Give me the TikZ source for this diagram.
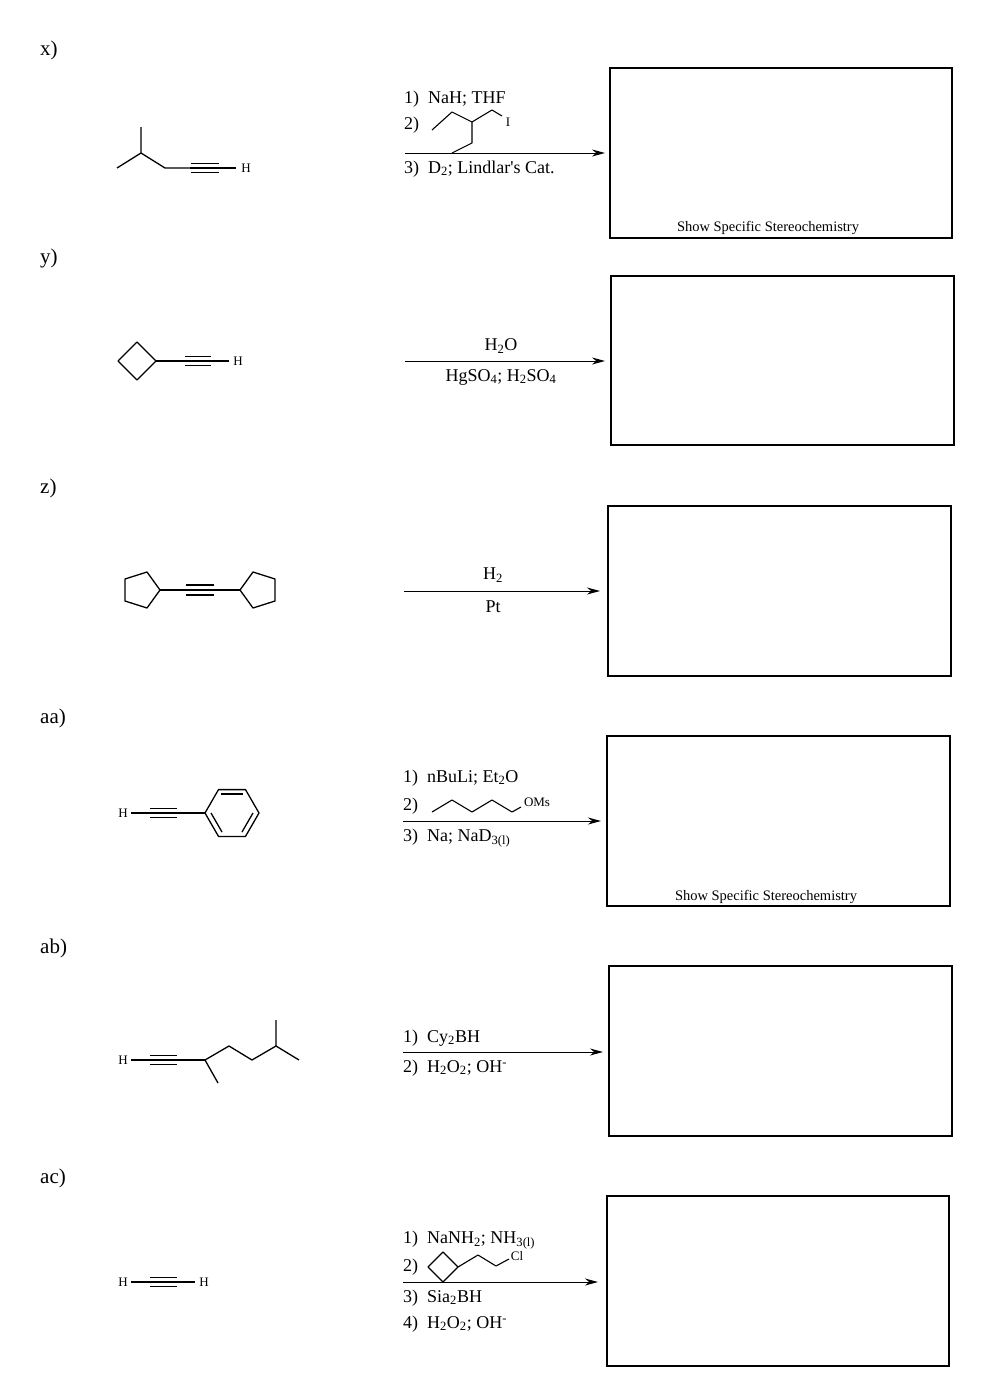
\documentclass[tikz,border=0pt]{standalone}
\usepackage{fontspec}
\setmainfont{Liberation Serif}
\usetikzlibrary{arrows.meta}
\newcommand{\sbs}[1]{\textsubscript{#1}}
\begin{document}
\begin{tikzpicture}[x=1pt,y=-1pt,
  bond/.style={line width=1.3pt,line join=round},
  rxn/.style={line width=1pt,-{Stealth[length=13pt,width=7pt]}},
  box/.style={draw,line width=1.6pt},
  lbl/.style={font=\fontsize{21}{23}\selectfont,anchor=west,inner sep=0},
  rg/.style={font=\fontsize{18}{20}\selectfont,anchor=west,inner sep=0},
  rgc/.style={font=\fontsize{18}{20}\selectfont,inner sep=0},
  atm/.style={font=\fontsize{13}{14}\selectfont,inner sep=0},
  st/.style={font=\fontsize{14.5}{15}\selectfont,inner sep=0}]
\useasboundingbox (0,0) rectangle (1000,1389);
\def\tb#1#2#3{\draw[bond] (#1,#3) -- (#2,#3); \draw[bond] (#1+1,#3-4.5) -- (#2-1,#3-4.5); \draw[bond] (#1+1,#3+4.5) -- (#2-1,#3+4.5);}
% ---------- x
\node[lbl] (lx) at (40,50) {x)};
\draw[bond] (117,168) -- (141,153) -- (141,127); \draw[bond] (141,153) -- (165,168) -- (190,168);
\tb{190}{220}{168}
\draw[bond] (220,168) -- (236,168); \node[atm] (hx) at (246,168) {H};
\coordinate (ax1) at (405,153); \coordinate (ax2) at (605,153);
\draw[rxn] (ax1) -- (ax2);
\node[rg] (x1) at (404,99) {1)\ \ NaH; THF};
\node[rg] (x2) at (404,125) {2)};
\draw[bond,line width=1.1pt] (432,130) -- (452,112) -- (472,122) -- (492,110) -- (502,116);
\draw[bond,line width=1.1pt] (472,122) -- (472,143) -- (452,153);
\node[atm] (xi) at (508,122) {I};
\node[rg] (x3) at (404,169) {3)\ \ D\sbs{2}; Lindlar\textquotesingle s Cat.};
\node[box,minimum width=342pt,minimum height=170pt] (bx) at (781,153) {};
\node[st] (sx) at (768,228) {Show Specific Stereochemistry};
% ---------- y
\node[lbl] (ly) at (40,258) {y)};
\draw[bond] (118,361) -- (137,342) -- (156,361) -- (137,380) -- cycle;
\draw[bond] (156,361) -- (184,361); \tb{184}{212}{361}
\draw[bond] (212,361) -- (229,361); \node[atm] (hy) at (238,361) {H};
\coordinate (ay1) at (405,361); \coordinate (ay2) at (605,361);
\draw[rxn] (ay1) -- (ay2);
\node[rgc] (y1) at (501,346) {H\sbs{2}O};
\node[rgc] (y2) at (501,377) {HgSO\sbs{4}; H\sbs{2}SO\sbs{4}};
\node[box,minimum width=343pt,minimum height=169pt] (by) at (782.5,360.5) {};
% ---------- z
\node[lbl] (lz) at (40,488) {z)};
\draw[bond] (160,590) -- (147,572) -- (125,579) -- (125,601) -- (147,608) -- cycle;
\draw[bond] (240,590) -- (253,572) -- (275,579) -- (275,601) -- (253,608) -- cycle;
\draw[bond] (160,590) -- (240,590);
\draw[bond] (186,585) -- (214,585); \draw[bond] (186,595) -- (214,595);
\coordinate (az1) at (404,591); \coordinate (az2) at (600,591);
\draw[rxn] (az1) -- (az2);
\node[rgc] (z1) at (493,575) {H\sbs{2}};
\node[rgc] (z2) at (493,607) {Pt};
\node[box,minimum width=343pt,minimum height=170pt] (bz) at (779.5,591) {};
% ---------- aa
\node[lbl] (laa) at (40,718) {aa)};
\node[atm] (haa) at (123,813) {H};
\draw[bond] (131,813) -- (149,813); \tb{149}{178}{813} \draw[bond] (178,813) -- (205,813);
\draw[bond] (205,813) -- (218.5,789.6) -- (245.5,789.6) -- (259,813) -- (245.5,836.4) -- (218.5,836.4) -- cycle;
\draw[bond] (221,794) -- (243,794); \draw[bond] (253,813) -- (242,832); \draw[bond] (211,813) -- (222,832);
\coordinate (aa1) at (403,821); \coordinate (aa2) at (601,821);
\draw[rxn] (aa1) -- (aa2);
\node[rg] (aar1) at (403,778) {1)\ \ nBuLi; Et\sbs{2}O};
\node[rg] (aar2) at (403,806) {2)};
\draw[bond,line width=1.1pt] (432,812) -- (452,800) -- (472,812) -- (492,800) -- (512,812) -- (521,807);
\node[atm] (oms) at (537,802) {OMs};
\node[rg] (aar3) at (403,838) {3)\ \ Na; NaD\sbs{3(l)}};
\node[box,minimum width=343pt,minimum height=170pt] (baa) at (778.5,821) {};
\node[st] (saa) at (766,897) {Show Specific Stereochemistry};
% ---------- ab
\node[lbl] (lab) at (40,948) {ab)};
\node[atm] (hab) at (123,1060) {H};
\draw[bond] (131,1060) -- (149,1060); \tb{149}{178}{1060} \draw[bond] (178,1060) -- (205,1060);
\draw[bond] (218,1083) -- (205,1060) -- (229,1046) -- (252,1060) -- (276,1046) -- (276,1020);
\draw[bond] (276,1046) -- (299,1060);
\coordinate (ab1) at (403,1052); \coordinate (ab2) at (603,1052);
\draw[rxn] (ab1) -- (ab2);
\node[rg] (abr1) at (403,1038) {1)\ \ Cy\sbs{2}BH};
\node[rg] (abr2) at (403,1068) {2)\ \ H\sbs{2}O\sbs{2}; OH\textsuperscript{-}};
\node[box,minimum width=343pt,minimum height=170pt] (bab) at (780.5,1051) {};
% ---------- ac
\node[lbl] (lac) at (40,1178) {ac)};
\node[atm] (hac1) at (123,1282) {H};
\draw[bond] (131,1282) -- (149,1282); \tb{149}{178}{1282} \draw[bond] (178,1282) -- (195,1282);
\node[atm] (hac2) at (204,1282) {H};
\coordinate (ac1) at (403,1282); \coordinate (ac2) at (598,1282);
\draw[rxn] (ac1) -- (ac2);
\node[rg] (acr1) at (403,1240) {1)\ \ NaNH\sbs{2}; NH\sbs{3(l)}};
\node[rg] (acr2) at (403,1267) {2)};
\draw[bond,line width=1.1pt] (428,1267) -- (443,1252) -- (458,1267) -- (443,1282) -- cycle;
\draw[bond,line width=1.1pt] (458,1267) -- (478,1255) -- (496,1266) -- (509,1259);
\node[atm] (cl) at (517,1256) {Cl};
\node[rg] (acr3) at (403,1298) {3)\ \ Sia\sbs{2}BH};
\node[rg] (acr4) at (403,1324) {4)\ \ H\sbs{2}O\sbs{2}; OH\textsuperscript{-}};
\node[box,minimum width=342pt,minimum height=170pt] (bac) at (778,1281) {};
\end{tikzpicture}
\end{document}
